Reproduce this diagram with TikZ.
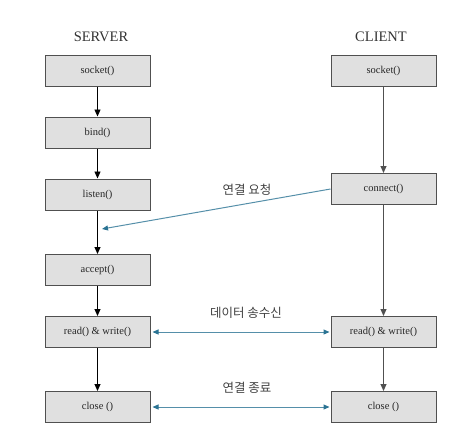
\documentclass[tikz,border=0pt]{standalone}
\usepackage{fontspec}
\setmainfont{Liberation Serif}
\newfontfamily\kr{Noto Sans CJK KR}
\usetikzlibrary{arrows.meta}
\definecolor{boxfill}{HTML}{E0E0E0}
\definecolor{boxline}{HTML}{505050}
\definecolor{msg}{HTML}{2A7393}
\begin{document}
\begin{tikzpicture}[x=1pt,y=-1pt,
  fn/.style={draw=boxline,line width=1pt,fill=boxfill,minimum width=105pt,minimum height=31pt,inner sep=0pt,font=\fontsize{10.5}{12}\selectfont,text=black!85},
  hdr/.style={font=\fontsize{14.5}{16}\selectfont,text=black!80},
  flow/.style={line width=0.9pt,-{Triangle[length=7pt,width=6pt]}},
  flowg/.style={line width=1pt,draw=boxline,-{Triangle[length=7pt,width=6pt]}},
  msgline/.style={line width=1pt,draw=msg!80,{Triangle[length=6pt,width=5pt,fill=msg,color=msg]}-{Triangle[length=6pt,width=5pt,fill=msg,color=msg]}},
  msgone/.style={line width=1pt,draw=msg!80,-{Triangle[length=6pt,width=5pt,fill=msg,color=msg]}},
  lbl/.style={font=\kr\fontsize{12.5}{14}\selectfont,text=black!75}]
\useasboundingbox (0,0) rectangle (474,445);
\node[hdr] (srv) at (101,37) {SERVER};
\node[hdr] (cli) at (381,37) {CLIENT};
\node[fn] (s1) at (97.5,70.5) {socket()};
\node[fn] (s2) at (97.5,132.5) {bind()};
\node[fn] (s3) at (97.5,194.5) {listen()};
\node[fn] (s4) at (97.5,270) {accept()};
\node[fn] (s5) at (97.5,332) {read() \& write()};
\node[fn] (s6) at (97.5,407) {close ()};
\node[fn] (c1) at (383.5,70.5) {socket()};
\node[fn] (c2) at (383.5,189) {connect()};
\node[fn] (c3) at (383.5,332) {read() \& write()};
\node[fn] (c4) at (383.5,407) {close ()};
\draw[flow] (s1) -- (s2);
\draw[flow] (s2) -- (s3);
\draw[flow] (s3) -- (s4);
\draw[flow] (s4) -- (s5);
\draw[flow] (s5) -- (s6);
\draw[flowg] (c1) -- (c2);
\draw[flowg] (c2) -- (c3);
\draw[flowg] (c3) -- (c4);
\coordinate (req) at (102,229);
\draw[msgone] (c2.west) -- (req);
\path (s5.east) ++(2,0) coordinate (a1) (c3.west) ++(-1,0) coordinate (b1);
\draw[msgline] (a1) -- (b1);
\path (s6.east) ++(2,0) coordinate (a2) (c4.west) ++(-1,0) coordinate (b2);
\draw[msgline] (a2) -- (b2);
\node[lbl] (l1) at (247,190) {연결 요청};
\node[lbl] (l2) at (246,313) {데이터 송수신};
\node[lbl] (l3) at (247,388) {연결 종료};
\end{tikzpicture}
\end{document}
